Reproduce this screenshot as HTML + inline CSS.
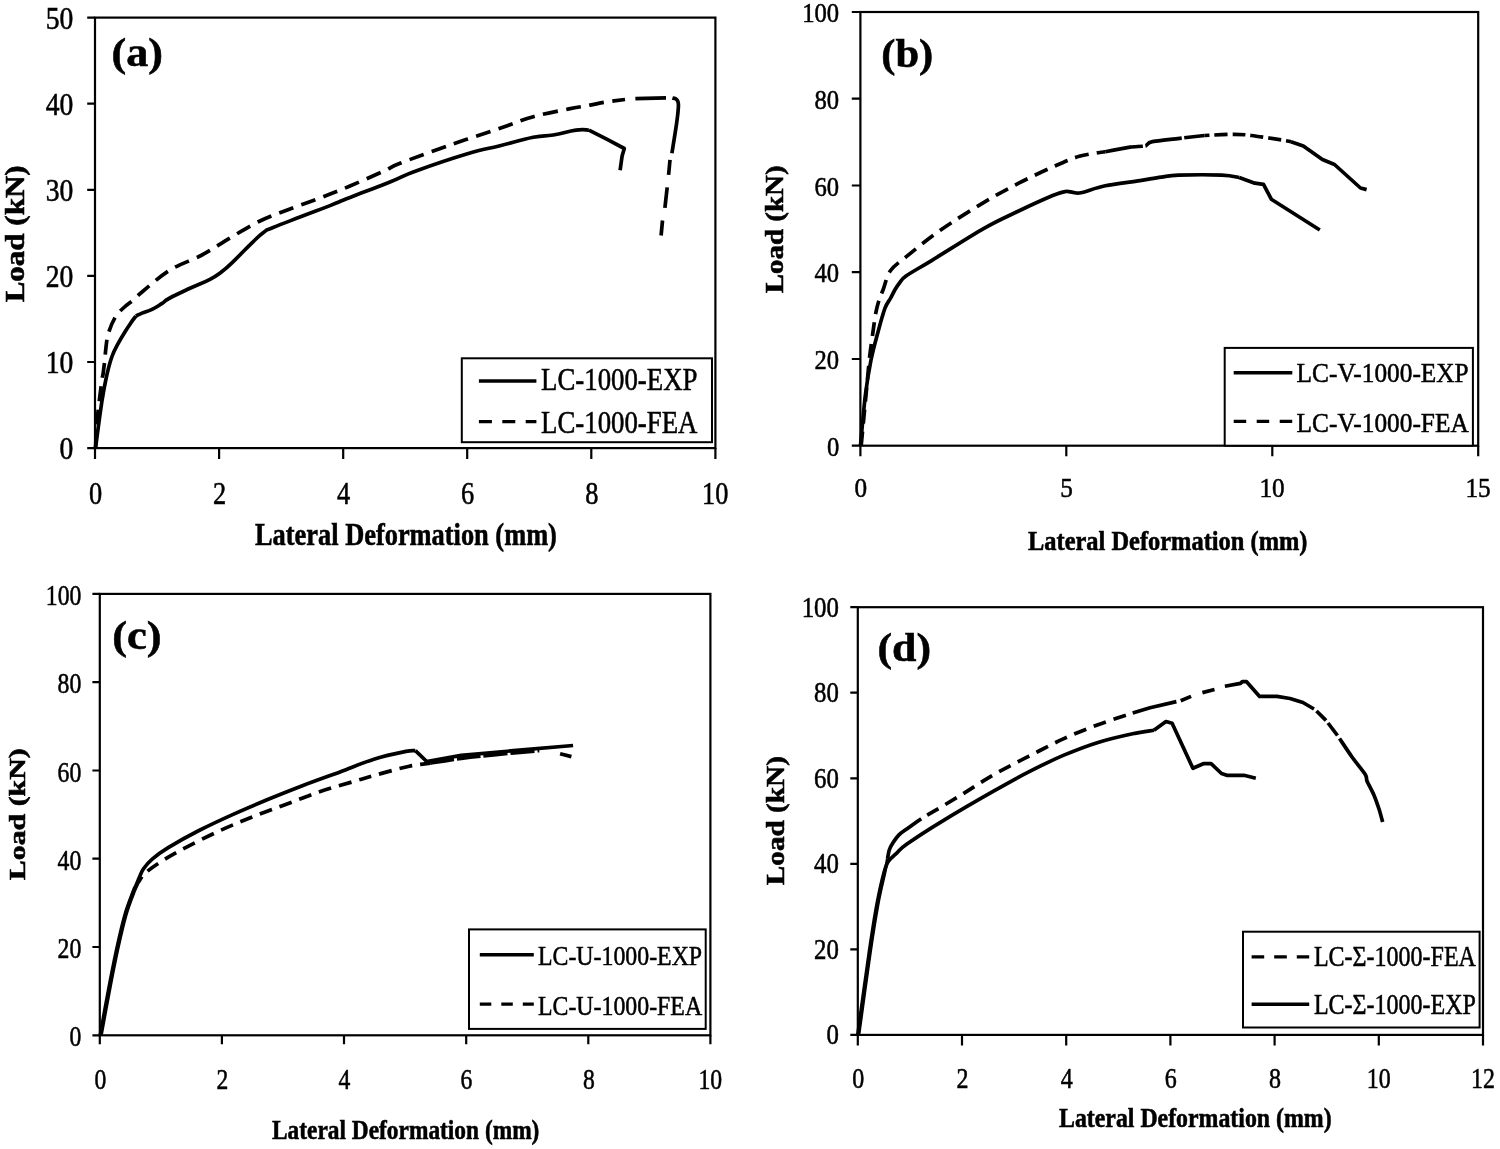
<!DOCTYPE html>
<html lang="en"><head><meta charset="utf-8"><title>Load versus lateral deformation curves</title>
<style>
html,body{margin:0;padding:0;background:#fff}
svg{display:block}
text{font-family:'Liberation Serif','Times New Roman',Times,serif;fill:#000;stroke:#000;stroke-width:0.55px}
</style></head><body>
<svg width="1500" height="1149" viewBox="0 0 1500 1149">
<rect width="1500" height="1149" fill="#fff"/>
<!-- panel (a) -->
<rect x="95" y="17.6" width="620.4" height="430.5" fill="none" stroke="#000" stroke-width="2.2"/>
<text x="59.5" y="459.3" font-size="31" textLength="13.8" lengthAdjust="spacingAndGlyphs">0</text>
<text x="45.7" y="373.2" font-size="31" textLength="27.6" lengthAdjust="spacingAndGlyphs">10</text>
<text x="45.7" y="287.1" font-size="31" textLength="27.6" lengthAdjust="spacingAndGlyphs">20</text>
<text x="45.7" y="201.0" font-size="31" textLength="27.6" lengthAdjust="spacingAndGlyphs">30</text>
<text x="45.7" y="114.9" font-size="31" textLength="27.6" lengthAdjust="spacingAndGlyphs">40</text>
<text x="45.7" y="28.8" font-size="31" textLength="27.6" lengthAdjust="spacingAndGlyphs">50</text>
<text x="88.9" y="503.5" font-size="31" textLength="13.2" lengthAdjust="spacingAndGlyphs">0</text>
<text x="213.1" y="503.5" font-size="31" textLength="13.2" lengthAdjust="spacingAndGlyphs">2</text>
<text x="337.0" y="503.5" font-size="31" textLength="13.2" lengthAdjust="spacingAndGlyphs">4</text>
<text x="461.0" y="503.5" font-size="31" textLength="13.2" lengthAdjust="spacingAndGlyphs">6</text>
<text x="585.2" y="503.5" font-size="31" textLength="13.2" lengthAdjust="spacingAndGlyphs">8</text>
<text x="702.1" y="503.5" font-size="31" textLength="26.3" lengthAdjust="spacingAndGlyphs">10</text>
<path d="M87.2,448.1H95M87.2,362.0H95M87.2,275.9H95M87.2,189.8H95M87.2,103.7H95M87.2,17.6H95M95.0,448.1V458.9M219.1,448.1V458.9M343.2,448.1V458.9M467.2,448.1V458.9M591.3,448.1V458.9M715.4,448.1V458.9" stroke="#000" stroke-width="2.2" fill="none"/>
<text x="111.6" y="65.8" font-size="39.3" font-weight="bold" textLength="51.4" lengthAdjust="spacingAndGlyphs">(a)</text>
<text x="255.0" y="544.8" font-size="31.5" font-weight="bold" textLength="301.9" lengthAdjust="spacingAndGlyphs">Lateral Deformation (mm)</text>
<text transform="translate(24.3,301.8) rotate(-90)" x="-0.5" y="0" font-size="26.3" font-weight="bold" textLength="136.9" lengthAdjust="spacingAndGlyphs">Load (kN)</text>
<path d="M95.5,448.0 C96.8,438.8 99.6,416.2 101.8,402.0 C104.0,387.8 104.4,386.0 106.4,377.0 C108.4,368.0 109.4,363.8 111.8,357.0 C114.2,350.2 115.8,348.0 118.5,342.9 C121.2,337.8 122.5,335.8 125.2,331.5 C127.9,327.2 129.8,324.5 131.9,321.4 C134.0,318.3 135.1,317.2 135.9,316.1" fill="none" stroke="#000" stroke-width="3.7" stroke-linejoin="round" stroke-linecap="butt"/>
<path d="M135.9,316.1 C137.3,315.4 138.2,314.7 142.0,313.1 C145.8,311.5 147.3,311.7 152.0,309.4 C156.7,307.1 158.1,305.9 162.1,303.4 C166.1,300.9 162.5,302.0 169.0,298.5 C175.5,295.0 180.4,292.8 190.0,288.3 C199.6,283.8 202.5,283.2 210.0,279.3 C217.5,275.4 216.4,275.8 222.0,271.5 C227.6,267.2 227.0,267.5 234.0,260.8 C241.0,254.1 245.0,249.5 252.0,242.8 C259.0,236.1 259.3,235.5 264.1,232.0 C268.9,228.5 264.1,231.3 272.5,227.8 C280.9,224.3 286.6,222.2 300.0,217.0 C313.4,211.8 318.3,210.2 330.0,205.6 C341.7,201.0 336.0,203.0 350.0,197.5 C364.0,192.0 374.4,188.3 390.0,182.0 C405.6,175.7 398.8,177.2 416.7,170.7 C434.6,164.2 447.3,159.8 466.7,154.0 C486.1,148.2 484.5,149.6 500.0,145.7 C515.5,141.8 520.9,139.8 533.3,137.3 C545.7,134.8 543.3,136.7 553.3,135.0 C563.3,133.3 567.7,131.2 576.0,130.1 C584.3,129.0 585.9,130.1 588.9,130.1" fill="none" stroke="#000" stroke-width="3.7" stroke-linejoin="round" stroke-linecap="butt"/>
<path d="M588.9,130.1 L606.7,139.2 L624.3,148.5 L622.1,156.0 L620.1,170.3" fill="none" stroke="#000" stroke-width="3.7" stroke-linejoin="round" stroke-linecap="butt"/>
<path d="M95.5,448.0 C95.8,442.7 96.5,427.2 97.6,416.0 C98.6,404.8 100.9,388.1 101.8,381.0 C102.7,373.9 102.6,377.2 103.1,373.7 C103.6,370.1 104.3,364.3 104.8,359.7 C105.3,355.1 105.5,350.7 106.1,346.2 C106.7,341.7 106.9,337.7 108.5,332.8 C110.1,327.9 112.8,321.1 115.5,316.8 C118.2,312.5 121.5,309.8 124.5,307.0 C127.5,304.2 130.1,302.8 133.3,300.0 C136.5,297.2 137.7,295.5 143.8,290.5 C149.9,285.5 160.3,275.9 170.0,270.0 C179.7,264.1 192.0,260.3 202.0,255.0 C212.0,249.7 220.3,243.7 230.0,238.0 C239.7,232.3 250.0,225.8 260.0,221.0 C270.0,216.2 280.0,212.8 290.0,209.0 C300.0,205.2 310.0,201.8 320.0,198.0 C330.0,194.2 339.3,190.5 350.0,186.0 C360.7,181.5 375.7,174.8 384.0,171.0 C392.3,167.2 389.0,167.6 400.0,163.3 C411.0,159.0 433.3,150.8 450.0,145.0 C466.7,139.2 486.1,133.0 500.0,128.3 C513.9,123.6 521.8,119.9 533.3,116.7 C544.8,113.5 559.5,110.8 569.0,108.9 C578.5,107.0 583.7,106.3 590.0,105.1 C596.3,103.9 600.8,102.8 606.6,101.9 C612.4,101.0 621.9,99.9 625.0,99.5" fill="none" stroke="#000" stroke-width="3.7" stroke-linejoin="round" stroke-linecap="butt" stroke-dasharray="15 8.5"/>
<path d="M635.4,98.6 L666.0,97.9" fill="none" stroke="#000" stroke-width="3.7" stroke-linejoin="round" stroke-linecap="butt"/>
<path d="M672.4,97.9 C673.0,98.1 675.1,98.4 676.0,99.0 C676.9,99.6 677.5,100.3 677.9,101.6 C678.3,102.9 678.6,103.3 678.4,106.8 C678.2,110.3 677.8,115.0 676.7,122.8 C675.6,130.6 672.7,148.2 671.9,153.3" fill="none" stroke="#000" stroke-width="3.7" stroke-linejoin="round" stroke-linecap="butt"/>
<path d="M670.0,159.9 L668.6,174.8" fill="none" stroke="#000" stroke-width="3.7" stroke-linejoin="round" stroke-linecap="butt"/>
<path d="M667.2,187.4 L664.9,207.9" fill="none" stroke="#000" stroke-width="3.7" stroke-linejoin="round" stroke-linecap="butt"/>
<path d="M662.5,220.5 L661.1,235.5" fill="none" stroke="#000" stroke-width="3.7" stroke-linejoin="round" stroke-linecap="butt"/>
<rect x="461.8" y="358.3" width="250.2" height="83.9" fill="#fff" stroke="#000" stroke-width="2"/>
<path d="M478.9,381H536.4" stroke="#000" stroke-width="3.4" fill="none"/>
<text x="541.1" y="389.6" font-size="31.2" textLength="156.3" lengthAdjust="spacingAndGlyphs">LC-1000-EXP</text>
<path d="M478.9,421.6H536.4" stroke="#000" stroke-width="3.4" fill="none" stroke-dasharray="13 10.4"/>
<text x="541.1" y="432.8" font-size="31.2" textLength="156.3" lengthAdjust="spacingAndGlyphs">LC-1000-FEA</text>
<!-- panel (b) -->
<rect x="860.4" y="12" width="617.8" height="433.7" fill="none" stroke="#000" stroke-width="2.2"/>
<text x="826.9" y="455.9" font-size="28" textLength="12.3" lengthAdjust="spacingAndGlyphs">0</text>
<text x="814.5" y="369.2" font-size="28" textLength="24.6" lengthAdjust="spacingAndGlyphs">20</text>
<text x="814.5" y="282.4" font-size="28" textLength="24.6" lengthAdjust="spacingAndGlyphs">40</text>
<text x="814.5" y="195.7" font-size="28" textLength="24.6" lengthAdjust="spacingAndGlyphs">60</text>
<text x="814.5" y="108.9" font-size="28" textLength="24.6" lengthAdjust="spacingAndGlyphs">80</text>
<text x="802.2" y="22.2" font-size="28" textLength="37.0" lengthAdjust="spacingAndGlyphs">100</text>
<text x="854.6" y="497.1" font-size="28" textLength="12.6" lengthAdjust="spacingAndGlyphs">0</text>
<text x="1060.3" y="497.1" font-size="28" textLength="12.6" lengthAdjust="spacingAndGlyphs">5</text>
<text x="1259.5" y="497.1" font-size="28" textLength="25.2" lengthAdjust="spacingAndGlyphs">10</text>
<text x="1465.5" y="497.1" font-size="28" textLength="25.2" lengthAdjust="spacingAndGlyphs">15</text>
<path d="M851.8,445.7H860.4M851.8,359.0H860.4M851.8,272.2H860.4M851.8,185.5H860.4M851.8,98.7H860.4M851.8,12.0H860.4M860.4,445.7V456.2M1066.3,445.7V456.2M1272.3,445.7V456.2M1478.2,445.7V456.2" stroke="#000" stroke-width="2.2" fill="none"/>
<text x="881.2" y="66.6" font-size="39.3" font-weight="bold" textLength="52.1" lengthAdjust="spacingAndGlyphs">(b)</text>
<text x="1028.0" y="549.6" font-size="27.3" font-weight="bold" textLength="279.5" lengthAdjust="spacingAndGlyphs">Lateral Deformation (mm)</text>
<text transform="translate(782.9,292.8) rotate(-90)" x="-0.4" y="0" font-size="25.5" font-weight="bold" textLength="127.8" lengthAdjust="spacingAndGlyphs">Load (kN)</text>
<path d="M860.5,445.5 C861.3,437.1 863.6,409.4 865.4,395.1 C867.1,380.9 868.9,370.5 871.0,360.0 C873.1,349.5 875.7,340.6 878.0,332.0 C880.3,323.4 882.9,313.8 885.0,308.2 C887.1,302.6 888.8,301.5 890.4,298.5 C892.0,295.5 893.3,292.6 894.8,290.0 C896.3,287.4 897.6,285.3 899.5,283.0 C901.4,280.7 900.6,279.8 906.0,276.0 C911.4,272.2 919.0,268.2 932.0,260.3 C945.0,252.4 969.5,236.5 984.0,228.3 C998.5,220.1 1007.2,216.5 1018.7,211.0 C1030.2,205.5 1045.5,198.6 1053.3,195.3 C1061.1,192.1 1062.2,192.0 1065.5,191.5 C1068.8,191.0 1070.4,192.1 1073.0,192.3 C1075.6,192.5 1075.6,193.8 1081.0,192.7 C1086.4,191.6 1095.5,187.8 1105.3,185.8 C1115.1,183.8 1130.7,182.1 1140.0,180.6 C1149.3,179.1 1154.8,178.0 1161.2,177.1 C1167.6,176.2 1168.4,175.4 1178.5,175.1 C1188.6,174.8 1211.8,174.7 1221.9,175.1 C1232.0,175.5 1236.3,177.1 1239.2,177.5" fill="none" stroke="#000" stroke-width="3.7" stroke-linejoin="round" stroke-linecap="butt"/>
<path d="M1239.2,177.5 L1254.8,183.2 L1263.5,184.4 L1271.3,199.2 L1319.8,230.0" fill="none" stroke="#000" stroke-width="3.7" stroke-linejoin="round" stroke-linecap="butt"/>
<path d="M861.2,445.5 C862.0,437.1 864.6,409.7 866.0,395.0 C867.4,380.3 868.5,367.0 869.6,357.2 C870.7,347.4 871.4,343.7 872.4,336.2 C873.4,328.7 874.8,318.2 875.9,312.4 C877.0,306.6 877.5,305.0 878.7,301.2 C879.9,297.4 881.2,294.6 883.2,289.5 C885.2,284.4 886.6,276.1 890.4,270.7 C894.2,265.3 897.6,263.7 906.0,256.9 C914.4,250.1 927.7,239.1 940.7,230.0 C953.7,220.9 971.0,210.1 984.0,202.3 C997.0,194.5 1007.2,189.1 1018.7,183.2 C1030.2,177.3 1043.2,171.2 1053.3,166.7 C1063.4,162.2 1070.6,158.8 1079.3,156.3 C1088.0,153.8 1101.0,152.5 1105.3,151.7" fill="none" stroke="#000" stroke-width="3.7" stroke-linejoin="round" stroke-linecap="butt" stroke-dasharray="14 8"/>
<path d="M1105.3,151.7 C1107.8,151.2 1126.0,147.7 1130.0,147.1 C1134.0,146.5 1143.3,146.5 1145.6,145.9 C1147.8,145.3 1146.6,142.6 1152.5,141.6 C1158.4,140.6 1199.3,136.1 1204.5,135.5" fill="none" stroke="#000" stroke-width="3.7" stroke-linejoin="round" stroke-linecap="butt" stroke-dasharray="38 2.5"/>
<path d="M1204.5,135.5 C1209.4,135.3 1226.2,134.3 1234.0,134.3 C1241.8,134.3 1242.6,134.4 1251.3,135.5 C1260.0,136.6 1279.4,139.6 1286.0,140.7 C1292.6,141.8 1290.2,141.6 1291.0,141.8" fill="none" stroke="#000" stroke-width="3.7" stroke-linejoin="round" stroke-linecap="butt" stroke-dasharray="13 5" stroke-dashoffset="8"/>
<path d="M1291.0,141.8 L1303.3,145.9 L1322.4,159.5 L1334.5,164.5 L1360.5,188.0 L1366.6,189.6" fill="none" stroke="#000" stroke-width="3.7" stroke-linejoin="round" stroke-linecap="butt"/>
<rect x="1224.7" y="347.9" width="248.2" height="97.8" fill="#fff" stroke="#000" stroke-width="2"/>
<path d="M1233.7,372.8H1292.3" stroke="#000" stroke-width="3.4" fill="none"/>
<text x="1296.6" y="382.1" font-size="28.3" textLength="172.1" lengthAdjust="spacingAndGlyphs">LC-V-1000-EXP</text>
<path d="M1233.7,421.4H1292.3" stroke="#000" stroke-width="3.4" fill="none" stroke-dasharray="12.5 10.5"/>
<text x="1296.6" y="432.1" font-size="28.3" textLength="172.1" lengthAdjust="spacingAndGlyphs">LC-V-1000-FEA</text>
<!-- panel (c) -->
<rect x="99.8" y="593.9" width="610.6" height="441.4" fill="none" stroke="#000" stroke-width="2.2"/>
<text x="69.4" y="1046.3" font-size="28.5" textLength="11.8" lengthAdjust="spacingAndGlyphs">0</text>
<text x="57.6" y="958.0" font-size="28.5" textLength="23.7" lengthAdjust="spacingAndGlyphs">20</text>
<text x="57.6" y="869.7" font-size="28.5" textLength="23.7" lengthAdjust="spacingAndGlyphs">40</text>
<text x="57.6" y="781.5" font-size="28.5" textLength="23.7" lengthAdjust="spacingAndGlyphs">60</text>
<text x="57.6" y="693.2" font-size="28.5" textLength="23.7" lengthAdjust="spacingAndGlyphs">80</text>
<text x="45.8" y="604.9" font-size="28.5" textLength="35.5" lengthAdjust="spacingAndGlyphs">100</text>
<text x="94.4" y="1089.1" font-size="28.5" textLength="11.8" lengthAdjust="spacingAndGlyphs">0</text>
<text x="216.6" y="1089.1" font-size="28.5" textLength="11.8" lengthAdjust="spacingAndGlyphs">2</text>
<text x="338.6" y="1089.1" font-size="28.5" textLength="11.8" lengthAdjust="spacingAndGlyphs">4</text>
<text x="460.6" y="1089.1" font-size="28.5" textLength="11.8" lengthAdjust="spacingAndGlyphs">6</text>
<text x="582.9" y="1089.1" font-size="28.5" textLength="11.8" lengthAdjust="spacingAndGlyphs">8</text>
<text x="698.5" y="1089.1" font-size="28.5" textLength="23.7" lengthAdjust="spacingAndGlyphs">10</text>
<path d="M92.4,1035.3H99.8M92.4,947.0H99.8M92.4,858.7H99.8M92.4,770.5H99.8M92.4,682.2H99.8M92.4,593.9H99.8M99.8,1035.3V1044.3M221.9,1035.3V1044.3M344.0,1035.3V1044.3M466.2,1035.3V1044.3M588.3,1035.3V1044.3M710.4,1035.3V1044.3" stroke="#000" stroke-width="2.2" fill="none"/>
<text x="112.3" y="649.2" font-size="39.3" font-weight="bold" textLength="49.4" lengthAdjust="spacingAndGlyphs">(c)</text>
<text x="272.0" y="1139.4" font-size="27.3" font-weight="bold" textLength="267.4" lengthAdjust="spacingAndGlyphs">Lateral Deformation (mm)</text>
<text transform="translate(25.2,879.8) rotate(-90)" x="-0.4" y="0" font-size="23.2" font-weight="bold" textLength="131.9" lengthAdjust="spacingAndGlyphs">Load (kN)</text>
<path d="M101.3,1035.0 C102.6,1027.8 106.5,1006.3 109.2,992.1 C111.9,977.9 114.8,962.9 117.6,950.0 C120.4,937.1 123.2,924.8 126.0,915.0 C128.8,905.2 132.3,896.6 134.4,891.2 C136.5,885.8 137.7,884.0 138.3,882.5" fill="none" stroke="#000" stroke-width="3.2" stroke-linejoin="round" stroke-linecap="butt"/>
<path d="M138.3,882.5 C139.5,880.9 141.5,876.5 145.3,873.0 C149.1,869.5 154.8,865.6 160.9,861.7 C167.0,857.8 172.5,854.5 181.7,849.6 C190.9,844.7 204.8,837.6 216.3,832.3 C227.9,826.9 239.4,822.1 251.0,817.5 C262.6,812.9 274.1,808.8 285.7,804.5 C297.2,800.2 308.8,795.4 320.3,791.5 C331.9,787.6 345.9,783.8 355.0,781.1 C364.1,778.4 365.6,777.8 374.7,775.3 C383.8,772.8 400.1,768.2 409.3,766.2 C418.5,764.2 426.6,763.7 430.1,763.2" fill="none" stroke="#000" stroke-width="3.7" stroke-linejoin="round" stroke-linecap="butt" stroke-dasharray="13 8" stroke-dashoffset="6"/>
<path d="M430.1,763.2 C435.3,762.4 450.3,759.8 461.3,758.4 C472.3,757.0 483.0,755.9 496.0,754.6 C509.0,753.3 532.1,751.3 539.3,750.6" fill="none" stroke="#000" stroke-width="3.7" stroke-linejoin="round" stroke-linecap="butt" stroke-dasharray="24 3"/>
<path d="M560.1,753.7 L571.4,756.6" fill="none" stroke="#000" stroke-width="3.7" stroke-linejoin="round" stroke-linecap="butt"/>
<path d="M100.3,1035.0 C101.6,1027.8 105.5,1006.3 108.2,992.1 C110.9,977.9 113.8,962.9 116.6,950.0 C119.4,937.1 122.2,924.8 125.0,915.0 C127.8,905.2 131.6,896.1 133.4,891.2 C135.2,886.3 135.0,887.8 136.0,885.5 C137.0,883.2 138.1,880.3 139.3,877.5 C140.6,874.7 141.3,871.8 143.5,868.7 C145.7,865.6 148.1,862.6 152.2,859.1 C156.2,855.6 160.0,852.7 167.8,847.9 C175.6,843.1 188.0,836.1 199.0,830.5 C210.0,824.9 222.1,819.3 233.7,814.1 C245.2,808.9 256.8,804.1 268.3,799.3 C279.9,794.5 291.1,790.1 303.0,785.5 C314.9,780.9 328.1,776.3 340.0,771.9 C351.9,767.5 363.7,762.3 374.7,758.9 C385.7,755.5 399.1,752.8 405.9,751.4 C412.7,750.0 413.8,750.8 415.4,750.7" fill="none" stroke="#000" stroke-width="3.7" stroke-linejoin="round" stroke-linecap="butt"/>
<path d="M415.4,750.7 L426.7,761.5 L461.3,755.4 L513.3,750.7 L573.1,745.5" fill="none" stroke="#000" stroke-width="3.7" stroke-linejoin="round" stroke-linecap="butt"/>
<rect x="469" y="929.4" width="236.7" height="99.5" fill="#fff" stroke="#000" stroke-width="2"/>
<path d="M479.8,954.7H533.8" stroke="#000" stroke-width="3.4" fill="none"/>
<text x="538.0" y="964.6" font-size="28" textLength="164.1" lengthAdjust="spacingAndGlyphs">LC-U-1000-EXP</text>
<path d="M479.8,1004.1H533.8" stroke="#000" stroke-width="3.4" fill="none" stroke-dasharray="11.5 10"/>
<text x="538.0" y="1015.4" font-size="28" textLength="164.1" lengthAdjust="spacingAndGlyphs">LC-U-1000-FEA</text>
<!-- panel (d) -->
<rect x="857.8" y="607.2" width="625.2" height="427.7" fill="none" stroke="#000" stroke-width="2.2"/>
<text x="826.5" y="1044.3" font-size="28.5" textLength="12.4" lengthAdjust="spacingAndGlyphs">0</text>
<text x="814.1" y="958.8" font-size="28.5" textLength="24.8" lengthAdjust="spacingAndGlyphs">20</text>
<text x="814.1" y="873.2" font-size="28.5" textLength="24.8" lengthAdjust="spacingAndGlyphs">40</text>
<text x="814.1" y="787.7" font-size="28.5" textLength="24.8" lengthAdjust="spacingAndGlyphs">60</text>
<text x="814.1" y="702.1" font-size="28.5" textLength="24.8" lengthAdjust="spacingAndGlyphs">80</text>
<text x="801.7" y="616.6" font-size="28.5" textLength="37.2" lengthAdjust="spacingAndGlyphs">100</text>
<text x="852.3" y="1087.6" font-size="28.5" textLength="12.0" lengthAdjust="spacingAndGlyphs">0</text>
<text x="956.6" y="1087.6" font-size="28.5" textLength="12.0" lengthAdjust="spacingAndGlyphs">2</text>
<text x="1060.7" y="1087.6" font-size="28.5" textLength="12.0" lengthAdjust="spacingAndGlyphs">4</text>
<text x="1164.7" y="1087.6" font-size="28.5" textLength="12.0" lengthAdjust="spacingAndGlyphs">6</text>
<text x="1269.1" y="1087.6" font-size="28.5" textLength="12.0" lengthAdjust="spacingAndGlyphs">8</text>
<text x="1366.7" y="1087.6" font-size="28.5" textLength="23.9" lengthAdjust="spacingAndGlyphs">10</text>
<text x="1471.1" y="1087.6" font-size="28.5" textLength="23.9" lengthAdjust="spacingAndGlyphs">12</text>
<path d="M850.3,1034.9H857.8M850.3,949.4H857.8M850.3,863.8H857.8M850.3,778.3H857.8M850.3,692.7H857.8M850.3,607.2H857.8M857.8,1034.9V1045.4M962.0,1034.9V1045.4M1066.2,1034.9V1045.4M1170.4,1034.9V1045.4M1274.6,1034.9V1045.4M1378.8,1034.9V1045.4M1483.0,1034.9V1045.4" stroke="#000" stroke-width="2.2" fill="none"/>
<text x="877.5" y="660.8" font-size="39.3" font-weight="bold" textLength="53.6" lengthAdjust="spacingAndGlyphs">(d)</text>
<text x="1059.0" y="1127.4" font-size="27.8" font-weight="bold" textLength="272.6" lengthAdjust="spacingAndGlyphs">Lateral Deformation (mm)</text>
<text transform="translate(783.6,884.8) rotate(-90)" x="-0.4" y="0" font-size="24.5" font-weight="bold" textLength="129.1" lengthAdjust="spacingAndGlyphs">Load (kN)</text>
<path d="M858.8,1034.9 C860.7,1021.2 867.0,974.3 870.2,952.5 C873.4,930.7 875.6,917.2 878.0,903.9 C880.4,890.6 883.2,880.2 884.8,872.7 C886.4,865.2 887.0,861.2 887.5,858.9" fill="none" stroke="#000" stroke-width="3.2" stroke-linejoin="round" stroke-linecap="butt"/>
<path d="M887.5,858.9 C887.8,857.5 888.4,852.8 889.2,850.2 C890.0,847.6 890.9,846.0 892.5,843.5 C894.1,841.0 896.1,837.7 898.7,835.1 C901.3,832.5 904.5,830.7 908.2,828.0 C912.0,825.3 919.0,820.2 921.2,818.7" fill="none" stroke="#000" stroke-width="3.7" stroke-linejoin="round" stroke-linecap="butt"/>
<path d="M921.2,818.7 C927.6,814.9 947.2,803.5 959.3,796.1 C971.4,788.7 982.4,781.1 994.0,774.5 C1005.6,767.9 1017.2,762.2 1028.7,756.3 C1040.2,750.4 1051.8,744.2 1063.3,738.9 C1074.8,733.6 1086.4,729.0 1098.0,724.7 C1109.6,720.4 1126.9,714.9 1132.7,712.9" fill="none" stroke="#000" stroke-width="3.7" stroke-linejoin="round" stroke-linecap="butt" stroke-dasharray="13 8" stroke-dashoffset="14"/>
<path d="M1132.7,712.9 L1150.0,707.7 L1176.4,701.6" fill="none" stroke="#000" stroke-width="3.7" stroke-linejoin="round" stroke-linecap="butt"/>
<path d="M1180.7,700.7 L1191.1,696.4" fill="none" stroke="#000" stroke-width="3.7" stroke-linejoin="round" stroke-linecap="butt"/>
<path d="M1202.4,692.6 L1214.5,689.5" fill="none" stroke="#000" stroke-width="3.7" stroke-linejoin="round" stroke-linecap="butt"/>
<path d="M1224.9,686.3 L1240.5,683.4 L1242.3,681.7 L1246.6,681.7 L1259.6,696.4 L1276.9,696.4 L1290.0,698.5 L1302.9,702.5 L1314.0,709.0" fill="none" stroke="#000" stroke-width="3.7" stroke-linejoin="round" stroke-linecap="butt"/>
<path d="M1316.5,711.0 L1323.7,718.1 L1326.0,720.5" fill="none" stroke="#000" stroke-width="3.7" stroke-linejoin="round" stroke-linecap="butt"/>
<path d="M1328.0,723.0 L1337.5,735.5" fill="none" stroke="#000" stroke-width="3.7" stroke-linejoin="round" stroke-linecap="butt"/>
<path d="M1339.5,738.5 C1341.2,741.0 1348.6,752.2 1352.0,757.0 C1355.4,761.8 1363.3,771.2 1365.3,774.4 C1367.3,777.6 1365.9,778.5 1367.1,781.3 C1368.3,784.1 1372.4,791.5 1374.0,795.2 C1375.6,798.9 1377.8,805.4 1379.0,809.0 C1380.2,812.6 1382.2,820.4 1382.7,822.1" fill="none" stroke="#000" stroke-width="3.7" stroke-linejoin="round" stroke-linecap="butt"/>
<path d="M857.8,1034.9 C859.7,1021.2 866.1,974.3 869.3,952.5 C872.5,930.7 874.6,917.2 877.1,903.9 C879.6,890.6 882.1,879.8 884.0,872.7 C885.9,865.6 886.1,864.8 888.3,861.5 C890.5,858.2 893.8,855.8 897.0,852.8 C900.2,849.8 899.8,849.0 907.3,843.8 C914.8,838.5 927.5,830.1 942.0,821.3 C956.5,812.5 979.5,799.1 994.0,790.9 C1008.5,782.7 1017.2,777.8 1028.7,771.9 C1040.2,766.0 1051.8,760.3 1063.3,755.4 C1074.8,750.5 1086.4,746.0 1098.0,742.4 C1109.6,738.8 1123.4,735.7 1132.7,733.7 C1142.0,731.7 1150.4,730.8 1153.9,730.2" fill="none" stroke="#000" stroke-width="3.7" stroke-linejoin="round" stroke-linecap="butt"/>
<path d="M1153.9,730.2 L1166.0,721.5 L1172.1,723.3 L1192.9,768.3 L1203.3,763.7 L1211.1,763.7 L1221.5,773.5 L1226.7,775.3 L1244.0,775.3 L1255.8,778.2" fill="none" stroke="#000" stroke-width="3.7" stroke-linejoin="round" stroke-linecap="butt"/>
<rect x="1243" y="931.7" width="236.6" height="95.8" fill="#fff" stroke="#000" stroke-width="2"/>
<path d="M1251.6,956.9H1309.2" stroke="#000" stroke-width="3.4" fill="none" stroke-dasharray="12.6 10"/>
<text x="1313.9" y="966.4" font-size="28.8" textLength="162.0" lengthAdjust="spacingAndGlyphs">LC-Σ-1000-FEA</text>
<path d="M1251.6,1004.2H1309.2" stroke="#000" stroke-width="3.4" fill="none"/>
<text x="1313.9" y="1013.6" font-size="28.8" textLength="162.0" lengthAdjust="spacingAndGlyphs">LC-Σ-1000-EXP</text>
</svg>
</body></html>
